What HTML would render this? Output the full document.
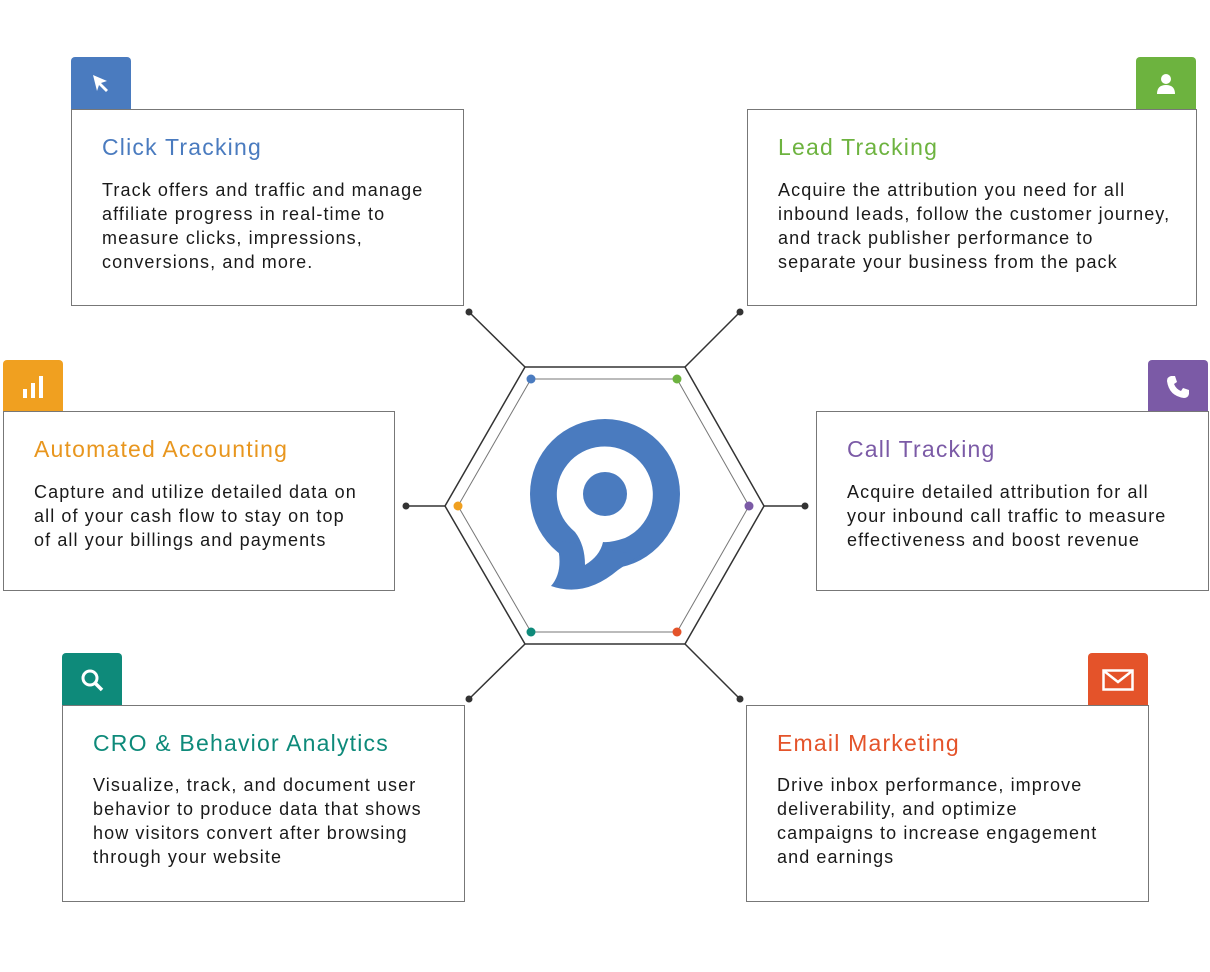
<!DOCTYPE html>
<html><head><meta charset="utf-8"><style>
body{margin:0;width:1210px;height:972px;background:#fff;position:relative;overflow:hidden;font-family:"Liberation Sans",sans-serif}
.box{position:absolute;border:1.5px solid #777;background:#fff;box-sizing:border-box}
.tab{position:absolute;width:60px;height:53px;border-radius:4px 4px 0 0;box-sizing:border-box;display:flex;align-items:center;justify-content:center}
.t{position:absolute;font-size:23px;letter-spacing:1.2px;white-space:nowrap}
.b{position:absolute;font-size:18px;letter-spacing:1.1px;line-height:24px;color:#1a1a1a;white-space:nowrap}
</style></head><body>
<svg width="1210" height="972" style="position:absolute;left:0;top:0">
<g stroke="#333" stroke-width="1.5" fill="none">
<line x1="469" y1="312" x2="525" y2="367"/><line x1="740" y1="312" x2="685" y2="367"/>
<line x1="406" y1="506" x2="445" y2="506"/><line x1="805" y1="506" x2="764" y2="506"/>
<line x1="469" y1="699" x2="525" y2="644"/><line x1="740" y1="699" x2="685" y2="644"/>
<polygon points="525,367 685,367 764,506 685,644 525,644 445,506"/>
</g>
<polygon points="531,379 677,379 749,506 677,632 531,632 458,506" fill="none" stroke="#777" stroke-width="1"/>
<g fill="#333"><circle cx="469" cy="312" r="3.5"/><circle cx="740" cy="312" r="3.5"/><circle cx="406" cy="506" r="3.5"/><circle cx="805" cy="506" r="3.5"/><circle cx="469" cy="699" r="3.5"/><circle cx="740" cy="699" r="3.5"/></g>
<circle cx="531" cy="379" r="4.5" fill="#4a7bbf"/><circle cx="677" cy="379" r="4.5" fill="#6db33f"/>
<circle cx="458" cy="506" r="4.5" fill="#f0a020"/><circle cx="749" cy="506" r="4.5" fill="#7b5aa6"/>
<circle cx="531" cy="632" r="4.5" fill="#0e8a7a"/><circle cx="677" cy="632" r="4.5" fill="#e4532a"/>
<circle cx="605" cy="494" r="75" fill="#4a7bbf"/>
<path d="M556,540 Q565,570 551,586 Q585,598 618,570 L640,555 Z" fill="#4a7bbf"/>
<path d="M563,518 A48,48 0 1 1 625,538 Q610,543 603,542 Q600,556 585,565 Q585,545 575,532 Q567,525 563,518 Z" fill="#fff"/>
<circle cx="605" cy="494" r="22" fill="#4a7bbf"/>
</svg>

<div class="tab" style="left:71px;top:57px;background:#4a7bbf"><svg width="24" height="24" viewBox="0 0 24 24"><path d="M4,3 L18,9 L12,11 L19,18 L17,20 L10,13 L8,19 Z" fill="#fff"/></svg></div>
<div class="box" style="left:71px;top:109px;width:393px;height:197px"></div>
<div class="t" style="left:102px;top:134px;color:#4a7bbf">Click Tracking</div>
<div class="b" style="left:102px;top:178px">Track offers and traffic and manage<br>affiliate progress in real-time to<br>measure clicks, impressions,<br>conversions, and more.</div>

<div class="tab" style="left:1136px;top:57px;background:#6db33f"><svg width="22" height="24" viewBox="0 0 22 24"><circle cx="11" cy="7" r="5" fill="#fff"/><path d="M2,22 Q2,13 11,13 Q20,13 20,22 Z" fill="#fff"/></svg></div>
<div class="box" style="left:747px;top:109px;width:450px;height:197px"></div>
<div class="t" style="left:778px;top:134px;color:#6db33f">Lead Tracking</div>
<div class="b" style="left:778px;top:178px">Acquire the attribution you need for all<br>inbound leads, follow the customer journey,<br>and track publisher performance to<br>separate your business from the pack</div>

<div class="tab" style="left:3px;top:360px;background:#f0a020"><svg width="28" height="28" viewBox="0 0 28 28"><rect x="4" y="16" width="4" height="9" fill="#fff"/><rect x="12" y="10" width="4" height="15" fill="#fff"/><rect x="20" y="3" width="4" height="22" fill="#fff"/></svg></div>
<div class="box" style="left:3px;top:411px;width:392px;height:180px"></div>
<div class="t" style="left:34px;top:436px;color:#e8961e">Automated Accounting</div>
<div class="b" style="left:34px;top:480px">Capture and utilize detailed data on<br>all of your cash flow to stay on top<br>of all your billings and payments</div>

<div class="tab" style="left:1148px;top:360px;background:#7b5aa6"><svg width="26" height="26" viewBox="0 0 26 26"><path d="M6,2 L10,2 L12,8 L9,10 Q11,15 16,17 L18,14 L24,16 L24,20 Q23,24 19,24 Q4,22 2,7 Q2,3 6,2 Z" fill="#fff"/></svg></div>
<div class="box" style="left:816px;top:411px;width:393px;height:180px"></div>
<div class="t" style="left:847px;top:436px;color:#7b5aa6">Call Tracking</div>
<div class="b" style="left:847px;top:480px">Acquire detailed attribution for all<br>your inbound call traffic to measure<br>effectiveness and boost revenue</div>

<div class="tab" style="left:62px;top:653px;background:#0e8a7a"><svg width="26" height="26" viewBox="0 0 26 26"><circle cx="11" cy="11" r="7" fill="none" stroke="#fff" stroke-width="3"/><line x1="16" y1="16" x2="23" y2="23" stroke="#fff" stroke-width="3.5"/></svg></div>
<div class="box" style="left:62px;top:705px;width:403px;height:197px"></div>
<div class="t" style="left:93px;top:730px;color:#0e8a7a">CRO &amp; Behavior Analytics</div>
<div class="b" style="left:93px;top:773px">Visualize, track, and document user<br>behavior to produce data that shows<br>how visitors convert after browsing<br>through your website</div>

<div class="tab" style="left:1088px;top:653px;background:#e4532a"><svg width="32" height="22" viewBox="0 0 32 22"><rect x="1.5" y="1.5" width="29" height="19" fill="none" stroke="#fff" stroke-width="2.5"/><path d="M2,2 L16,13 L30,2" fill="none" stroke="#fff" stroke-width="2.5"/></svg></div>
<div class="box" style="left:746px;top:705px;width:403px;height:197px"></div>
<div class="t" style="left:777px;top:730px;color:#e4532a">Email Marketing</div>
<div class="b" style="left:777px;top:773px">Drive inbox performance, improve<br>deliverability, and optimize<br>campaigns to increase engagement<br>and earnings</div>
</body></html>
